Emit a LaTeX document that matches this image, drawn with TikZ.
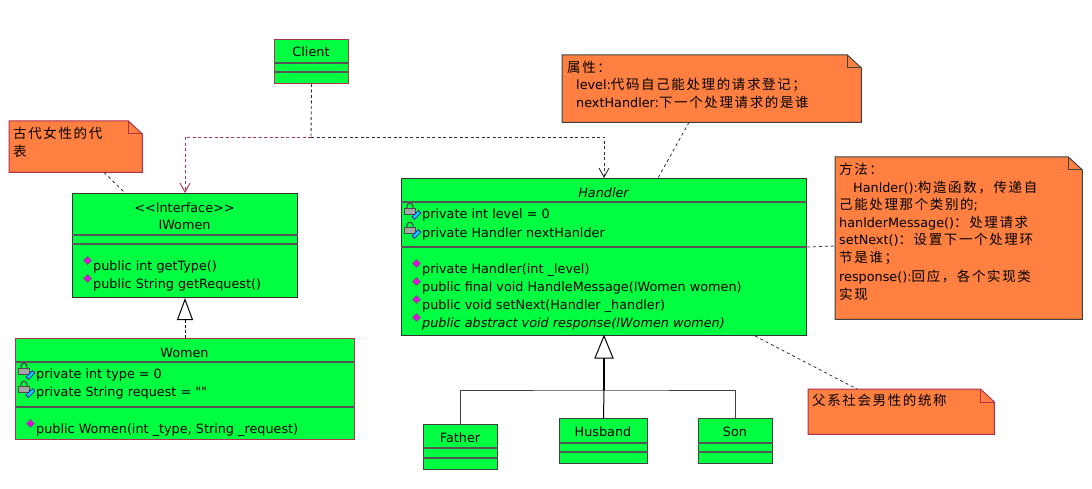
\documentclass[tikz,border=0pt]{standalone}
\usepackage{fontspec}
\newfontfamily\umlfont{DejaVu Sans}
\newfontfamily\cjkfont{Noto Sans CJK SC}[LetterSpace=12]
\usetikzlibrary{arrows.meta}
\definecolor{umlgreen}{HTML}{00FF40}
\definecolor{noteorange}{HTML}{FF8040}
\definecolor{crim}{HTML}{B03050}
\definecolor{dgray}{HTML}{303030}
\definecolor{mgray}{HTML}{404040}
\definecolor{sepgray}{HTML}{555555}
\definecolor{magentaC}{HTML}{E010E0}
\definecolor{cyanC}{HTML}{10C8FF}
\newcommand{\zh}[1]{{\cjkfont\fontsize{13.5}{15}\selectfont #1}}
\newcommand{\drawnote}[2]{%
  \draw[fill=noteorange, draw=#2, line width=1pt] (#1.north west) -- ([xshift=-14pt]#1.north east) -- ([yshift=-13pt]#1.north east) -- (#1.south east) -- (#1.south west) -- cycle;
  \draw[draw=#2, line width=1pt] ([xshift=-14pt]#1.north east) -- ([xshift=-14pt,yshift=-13pt]#1.north east) -- ([yshift=-13pt]#1.north east);
}
\tikzset{
  cls/.style={draw=#1, fill=umlgreen, line width=1pt, inner sep=0pt, anchor=north west},
  sepline/.style={draw=sepgray, line width=1.4pt},
  txt/.style={font=\umlfont\fontsize{12.8}{15}\selectfont, inner sep=0pt, text height=13pt, text depth=2.5pt},
  ltxt/.style={txt, anchor=west},
  notebg/.style={inner sep=0pt, anchor=north west},
  dep/.style={dash pattern=on 3pt off 2.5pt, line width=0.9pt},
  notelink/.style={dash pattern=on 3pt off 3pt, line width=0.8pt, draw=dgray},
  barb/.style={-{Straight Barb[length=9pt,width=10pt]}},
  methicon/.pic={
    \filldraw[fill=magentaC, draw=black!60, line width=0.5pt] (-5.5,-8.5) -- (-1.5,-4.5) -- (-5.5,-0.5) -- (-9.5,-4.5) -- cycle;
  },
  attricon/.pic={
    \draw[draw=black!70, line width=1.2pt] (-15,-4.5) -- (-15,-7) .. controls (-15,-10.5) and (-9,-10.5) .. (-9,-7) -- (-9,-4.5);
    \filldraw[fill=gray!70, draw=black!70, line width=0.7pt] (-17.5,-5) rectangle (-6.5,1.5);
    \filldraw[fill=cyanC, draw=blue!60!black, line width=0.6pt, rotate around={45:(-5.5,2)}] (-10,0.2) rectangle (-1,3.8);
  },
}
\begin{document}
\begin{tikzpicture}[x=1pt,y=-1pt]
\useasboundingbox (0,0) rectangle (1092,489);
\fill[white] (0,0) rectangle (1092,489);

% ---------- classes ----------
\node[cls=crim, minimum width=74pt, minimum height=44pt] (client) at (274,39) {};
\draw[sepline] (client.west |- 0,63) -- (client.east |- 0,63);
\draw[sepline] (client.west |- 0,72) -- (client.east |- 0,72);
\node[txt] (clientT) at (311,51) {Client};

\node[cls=dgray, minimum width=225pt, minimum height=104pt] (iwomen) at (72,193) {};
\draw[sepline] (iwomen.west |- 0,235) -- (iwomen.east |- 0,235);
\draw[sepline] (iwomen.west |- 0,244) -- (iwomen.east |- 0,244);
\node[txt] (iwS) at (184.5,207) {\textless\textless Interface\textgreater\textgreater};
\node[txt] (iwT) at (184.5,224) {IWomen};
\pic at (93,265) {methicon};
\node[ltxt] (iwM1) at (93,265) {public int getType()};
\pic at (93,283) {methicon};
\node[ltxt] (iwM2) at (93,283) {public String getRequest()};

\node[cls=crim, minimum width=339pt, minimum height=101pt] (women) at (15,338) {};
\draw[sepline] (women.west |- 0,362) -- (women.east |- 0,362);
\draw[sepline] (women.west |- 0,407) -- (women.east |- 0,407);
\node[txt] (woT) at (184.5,352) {Women};
\pic at (36,373) {attricon};
\node[ltxt] (woA1) at (36,373) {private int type = 0};
\pic at (36,391) {attricon};
\node[ltxt] (woA2) at (36,391) {private String request = ""};
\pic at (36,428) {methicon};
\node[ltxt] (woM1) at (36,428) {public Women(int \_type, String \_request)};

\node[cls=dgray, minimum width=405pt, minimum height=157pt] (handler) at (401,178) {};
\draw[sepline] (handler.west |- 0,202) -- (handler.east |- 0,202);
\draw[sepline] (handler.west |- 0,247) -- (handler.east |- 0,247);
\node[txt, font=\umlfont\itshape\fontsize{12.8}{15}\selectfont] (haT) at (603.5,192) {Handler};
\pic at (422,213) {attricon};
\node[ltxt] (haA1) at (422,213) {private int level = 0};
\pic at (422,232) {attricon};
\node[ltxt] (haA2) at (422,232) {private Handler nextHanlder};
\pic at (422,268) {methicon};
\node[ltxt] (haM1) at (422,268) {private Handler(int \_level)};
\pic at (422,286) {methicon};
\node[ltxt] (haM2) at (422,286) {public final void HandleMessage(IWomen women)};
\pic at (422,304) {methicon};
\node[ltxt] (haM3) at (422,304) {public void setNext(Handler \_handler)};
\pic at (422,322) {methicon};
\node[ltxt, font=\umlfont\itshape\fontsize{12.8}{15}\selectfont] (haM4) at (422,322) {public abstract void response(IWomen women)};

\node[cls=mgray, minimum width=74pt, minimum height=45pt] (father) at (423,424) {};
\draw[sepline] (father.west |- 0,448) -- (father.east |- 0,448);
\draw[sepline] (father.west |- 0,458) -- (father.east |- 0,458);
\node[txt] (faT) at (460,437) {Father};

\node[cls=mgray, minimum width=88pt, minimum height=45pt] (husband) at (559,418) {};
\draw[sepline] (husband.west |- 0,443) -- (husband.east |- 0,443);
\draw[sepline] (husband.west |- 0,452) -- (husband.east |- 0,452);
\node[txt] (huT) at (603,431) {Husband};

\node[cls=mgray, minimum width=74pt, minimum height=45pt] (son) at (698,418) {};
\draw[sepline] (son.west |- 0,443) -- (son.east |- 0,443);
\draw[sepline] (son.west |- 0,452) -- (son.east |- 0,452);
\node[txt] (soT) at (735,431) {Son};

% ---------- notes ----------
\node[notebg, minimum width=133pt, minimum height=51pt] (n1) at (9,121) {};
\drawnote{n1}{crim}
\node[ltxt] (n1a) at (13,133) {\zh{古代女性的代}};
\node[ltxt] (n1b) at (13,151) {\zh{表}};

\node[notebg, minimum width=299pt, minimum height=67pt] (n2) at (562,55) {};
\drawnote{n2}{mgray}
\node[ltxt] (n2a) at (567,67) {\zh{属性：}};
\node[ltxt] (n2b) at (576,84) {level:\zh{代码自己能处理的请求登记；}};
\node[ltxt] (n2c) at (576,102) {nextHandler:\zh{下一个处理请求的是谁}};

\node[notebg, minimum width=247pt, minimum height=162pt] (n3) at (835,157) {};
\drawnote{n3}{mgray}
\node[ltxt] (n3a) at (839,169) {\zh{方法：}};
\node[ltxt] (n3b) at (853,187) {Hanlder():\zh{构造函数，传递自}};
\node[ltxt] (n3c) at (839,204) {\zh{己能处理那个类别的};};
\node[ltxt] (n3d) at (839,222) {hanlderMessage()\zh{：处理请求}};
\node[ltxt] (n3e) at (839,239) {setNext()\zh{：设置下一个处理环}};
\node[ltxt] (n3f) at (839,257) {\zh{节是谁；}};
\node[ltxt] (n3g) at (839,276) {response():\zh{回应，各个实现类}};
\node[ltxt] (n3h) at (839,294) {\zh{实现}};

\node[notebg, minimum width=186pt, minimum height=45pt] (n4) at (808,389) {};
\drawnote{n4}{crim}
\node[ltxt] (n4a) at (812,400) {\zh{父系社会男性的统称}};

% ---------- connectors ----------
\coordinate (cj) at (311,137);
\draw[dep, draw=dgray] (client.south) -- (cj);
\draw[dep, draw=crim, barb] (cj) -| (iwomen.north);
\draw[dep, draw=dgray, barb] (cj) -| (handler.north);

\draw[dash pattern=on 3pt off 2pt, line width=1pt, -{Triangle[length=22pt,width=16pt,fill=white]}] (women.north) -- (iwomen.south);

\coordinate (gj) at (handler.south |- 0,390);
\draw[line width=1pt, draw=mgray] (father.north) |- (gj) -| (son.north);
\draw[line width=1pt] (husband.north) -- (gj);
\draw[line width=2.2pt] (gj) -- (handler.south |- 0,357);
\draw[line width=1pt, fill=white] (handler.south) -- ++(-9,22) -- ++(18,0) -- cycle;

\draw[notelink] (n1.south -| 104,0) -- (iwomen.north -| 125,0);
\draw[notelink] (n2.south -| 689,0) -- (handler.north -| 658,0);
\draw[notelink] (handler.east |- 0,247) -- (n3.west |- 0,246);
\draw[notelink] (handler.south -| 755,0) -- (n4.north -| 857,0);
\end{tikzpicture}
\end{document}
